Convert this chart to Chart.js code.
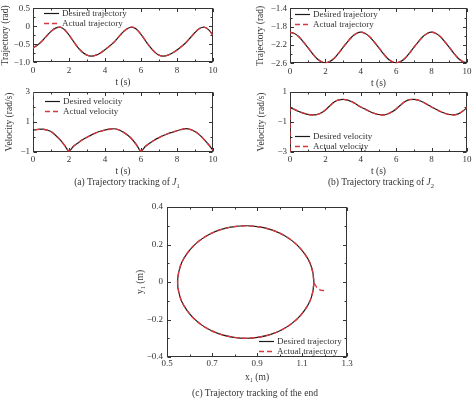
<!DOCTYPE html>
<html>
<head>
<meta charset="utf-8">
<script src="https://cdn.jsdelivr.net/npm/chart.js@4.4.1/dist/chart.umd.min.js"></script>
<style>
  html, body { margin: 0; padding: 0; background: #fff; }
  #wrap { position: relative; width: 474px; height: 399px; overflow: hidden;
          font-family: "Liberation Serif", "Times New Roman", serif; color: #333; }
  #wrap canvas { position: absolute; left: 0; top: 0; }
  .cap { position: absolute; font-size: 9.5px; line-height: 11px; white-space: nowrap; transform: translateX(-50%); }
  .cap sub { font-size: 6.5px; line-height: 0; }
</style>
</head>
<body>
<div id="wrap">
  <canvas id="j1Traj" width="474" height="399"></canvas>
  <canvas id="j2Traj" width="474" height="399"></canvas>
  <canvas id="j1Vel" width="474" height="399"></canvas>
  <canvas id="j2Vel" width="474" height="399"></canvas>
  <canvas id="endTraj" width="474" height="399"></canvas>
  <div class="cap" style="left:127px; top:177px">(a) Trajectory tracking of <i>J</i><sub>1</sub></div>
  <div class="cap" style="left:381px; top:177px">(b) Trajectory tracking of <i>J</i><sub>2</sub></div>
  <div class="cap" style="left:255px; top:388px">(c) Trajectory tracking of the end</div>
</div>
<script>
// time axis (s)
const timeS = [0, 0.25, 0.5, 0.75, 1, 1.25, 1.5, 1.75, 2, 2.25, 2.5, 2.75, 3, 3.25, 3.5, 3.75, 4,
  4.25, 4.5, 4.75, 5, 5.25, 5.5, 5.75, 6, 6.25, 6.5, 6.75, 7, 7.25, 7.5, 7.75, 8,
  8.25, 8.5, 8.75, 9, 9.25, 9.5, 9.75, 10];

// joint 1 trajectory (rad)
const j1Traj = [-0.60, -0.52, -0.41, -0.27, -0.14, -0.05, -0.02, -0.09, -0.24, -0.42, -0.59, -0.72, -0.80, -0.83, -0.80, -0.74, -0.65,
  -0.55, -0.44, -0.30, -0.16, -0.06, -0.02, -0.08, -0.22, -0.40, -0.57, -0.71, -0.80, -0.83, -0.80, -0.74, -0.66,
  -0.56, -0.45, -0.31, -0.17, -0.06, -0.02, -0.09, -0.25];

// joint 2 trajectory (rad)
const j2Traj = [-1.92, -1.95, -2.02, -2.13, -2.25, -2.38, -2.49, -2.56, -2.59, -2.56, -2.49, -2.38, -2.25, -2.13, -2.02, -1.95, -1.92,
  -1.95, -2.02, -2.13, -2.25, -2.38, -2.49, -2.56, -2.59, -2.56, -2.49, -2.38, -2.25, -2.13, -2.02, -1.95, -1.92,
  -1.95, -2.02, -2.13, -2.25, -2.38, -2.49, -2.56, -2.59];

// joint velocities (rad/s)
const j1Vel = [0.47, 0.50, 0.52, 0.47, 0.36, 0.12, -0.18, -0.55, -0.93, -0.62, -0.40, -0.18, -0.02, 0.14, 0.28, 0.38, 0.46,
  0.52, 0.55, 0.48, 0.34, 0.13, -0.15, -0.52, -0.93, -0.62, -0.40, -0.20, -0.04, 0.10, 0.22, 0.32, 0.42,
  0.50, 0.56, 0.50, 0.36, 0.14, -0.16, -0.50, -0.88];
const j2Vel = [-0.04, -0.16, -0.30, -0.41, -0.49, -0.53, -0.51, -0.40, -0.20, 0.08, 0.34, 0.48, 0.51, 0.46, 0.35, 0.18, 0.00,
  -0.14, -0.30, -0.42, -0.50, -0.53, -0.47, -0.33, -0.13, 0.13, 0.36, 0.49, 0.51, 0.46, 0.33, 0.17, 0.00,
  -0.15, -0.30, -0.42, -0.50, -0.53, -0.46, -0.28, -0.04];
// actual velocity starts from this value at t = 0
const j1VelStart = 3.0;
const j2VelStart = -3.0;

// end effector path (m)
const endX = [1.153, 1.148, 1.135, 1.112, 1.082, 1.045, 1.002, 0.954, 0.903, 0.850, 0.797, 0.746, 0.698, 0.655, 0.618, 0.588, 0.565, 0.552, 0.547,
  0.552, 0.565, 0.588, 0.618, 0.655, 0.698, 0.746, 0.797, 0.850, 0.903, 0.954, 1.002, 1.045, 1.082, 1.112, 1.135, 1.148, 1.153];
const endY = [0.000, 0.052, 0.103, 0.150, 0.193, 0.230, 0.260, 0.282, 0.295, 0.300, 0.295, 0.282, 0.260, 0.230, 0.193, 0.150, 0.103, 0.052, 0.000,
  -0.052, -0.103, -0.150, -0.193, -0.230, -0.260, -0.282, -0.295, -0.300, -0.295, -0.282, -0.260, -0.230, -0.193, -0.150, -0.103, -0.052, 0.000];
// actual end path start (before joining the circle)
const endStartX = [1.198, 1.182, 1.167, 1.157];
const endStartY = [-0.046, -0.043, -0.030, -0.012];

// ticks
const tTicks = [0, 2, 4, 6, 8, 10];
const tLabels = ['0', '2', '4', '6', '8', '10'];
const j1TrajTicks = [-1, -0.5, 0, 0.5];
const j1TrajLabels = ['\u22121.0', '\u22120.5', '0', '0.5'];
const j2TrajTicks = [-2.6, -2.2, -1.8, -1.4];
const j2TrajLabels = ['\u22122.6', '\u22122.2', '\u22121.8', '\u22121.4'];
const j1VelTicks = [-1, 1, 3];
const j1VelLabels = ['\u22121', '1', '3'];
const j2VelTicks = [-3, -1, 1];
const j2VelLabels = ['\u22123', '\u22121', '1'];
const endXTicks = [0.5, 0.7, 0.9, 1.1, 1.3];
const endXLabels = ['0.5', '0.7', '0.9', '1.1', '1.3'];
const endYTicks = [-0.4, -0.2, 0, 0.2, 0.4];
const endYLabels = ['\u22120.4', '\u22120.2', '0', '0.2', '0.4'];

const SERIF = '"Liberation Serif", "Times New Roman", serif';
const INK = '#333';
const RED = '#d8383c';

function timePoints(ys) { return timeS.map((t, i) => ({x: t, y: ys[i]})); }
function xyPoints(xs, ys) { return xs.map((x, i) => ({x: x, y: ys[i]})); }

// box and inward ticks under the curves, legend on top
const frameTicks = {
  id: 'frameTicks',
  beforeDatasetsDraw(chart) {
    const ctx = chart.ctx, a = chart.chartArea;
    const L = Math.round(a.left) + 0.5, R = Math.round(a.right) - 0.5;
    const T = Math.round(a.top) + 0.5, B = Math.round(a.bottom) - 0.5;
    ctx.save();
    ctx.strokeStyle = INK;
    ctx.lineWidth = 1;
    ctx.strokeRect(L, T, R - L, B - T);
    const marks = (scale) => {
      const v = scale.ticks.map(t => t.value), out = [];
      v.forEach((val, i) => {
        out.push([val, 3.5]);
        if (i < v.length - 1) out.push([(val + v[i + 1]) / 2, 2]);
      });
      return out;
    };
    ctx.beginPath();
    marks(chart.scales.x).forEach(([v, len]) => {
      const px = Math.round(chart.scales.x.getPixelForValue(v)) + 0.5;
      ctx.moveTo(px, B); ctx.lineTo(px, B - len);
      ctx.moveTo(px, T); ctx.lineTo(px, T + len);
    });
    marks(chart.scales.y).forEach(([v, len]) => {
      const py = Math.round(chart.scales.y.getPixelForValue(v)) + 0.5;
      ctx.moveTo(L, py); ctx.lineTo(L + len, py);
      ctx.moveTo(R, py); ctx.lineTo(R - len, py);
    });
    ctx.stroke();
    ctx.restore();
  },
  afterDatasetsDraw(chart, args, opts) {
    const ctx = chart.ctx, a = chart.chartArea;
    const lg = opts.legend;
    ctx.save();
    ctx.font = '9px ' + SERIF;
    ctx.textBaseline = 'middle';
    ctx.textAlign = 'left';
    [1, 0].forEach((di, row) => {
      const ds = chart.data.datasets[di];
      const x = a.left + lg.x, y = a.top + lg.y + row * 10;
      ctx.beginPath();
      ctx.strokeStyle = ds.borderColor;
      ctx.lineWidth = ds.borderWidth;
      ctx.setLineDash(ds.borderDash || []);
      ctx.moveTo(x, Math.round(y) + 0.5);
      ctx.lineTo(x + 15, Math.round(y) + 0.5);
      ctx.stroke();
      ctx.setLineDash([]);
      ctx.fillStyle = INK;
      ctx.fillText(ds.label, x + 18, y + 0.5);
    });
    ctx.restore();
  }
};

function axis(def, horizontal) {
  return {
    type: 'linear',
    min: def.values[0],
    max: def.values[def.values.length - 1],
    afterBuildTicks: s => { s.ticks = def.values.map(v => ({value: v})); },
    afterFit: s => { if (horizontal) s.height = def.size; else s.width = def.size; },
    grid: {display: false, drawTicks: false},
    border: {display: false},
    ticks: {
      autoSkip: false, maxRotation: 0, padding: def.tickPad, color: INK,
      font: {family: SERIF, size: 9},
      callback: (v, i) => def.labels[i]
    },
    title: {display: true, text: def.title, color: INK, padding: 0,
            font: {family: SERIF, size: 9.5, lineHeight: 1.2}}
  };
}

function makePanel(id, p) {
  return new Chart(document.getElementById(id), {
    type: 'line',
    data: {
      datasets: [
        {label: p.names[1], data: p.actual, borderColor: RED, borderWidth: 1.4, borderDash: [5, 3],
         order: 0, cubicInterpolationMode: p.curve ? 'default' : 'monotone', tension: 0.3},
        {label: p.names[0], data: p.desired, borderColor: '#1a1a1a', borderWidth: 1.2,
         order: 1, cubicInterpolationMode: p.curve ? 'default' : 'monotone', tension: 0.3}
      ]
    },
    options: {
      responsive: false,
      animation: false,
      events: [],
      layout: {autoPadding: false, padding: p.pad},
      elements: {point: {radius: 0}},
      plugins: {legend: {display: false}, tooltip: {enabled: false}, frameTicks: {legend: p.legend}},
      scales: {x: axis(p.x, true), y: axis(p.y, false)}
    },
    plugins: [frameTicks]
  });
}

makePanel('j1Traj', {
  names: ['Desired trajectory', 'Actual trajectory'],
  desired: timePoints(j1Traj),
  actual: timePoints(j1Traj),
  pad: {left: 0, top: 3, right: 261, bottom: 311.3},
  x: {values: tTicks, labels: tLabels, size: 25.4, tickPad: 2.5, title: 't (s)'},
  y: {values: j1TrajTicks, labels: j1TrajLabels, size: 33, tickPad: 3, title: 'Trajectory (rad)'},
  legend: {x: 11, y: 4.3}
});

makePanel('j2Traj', {
  names: ['Desired trajectory', 'Actual trajectory'],
  desired: timePoints(j2Traj),
  actual: timePoints(j2Traj),
  pad: {left: 254.6, top: 3, right: 4, bottom: 310.3},
  x: {values: tTicks, labels: tLabels, size: 25.4, tickPad: 2.5, title: 't (s)'},
  y: {values: j2TrajTicks, labels: j2TrajLabels, size: 35.4, tickPad: 3, title: 'Trajectory (rad)'},
  legend: {x: 5, y: 5.3}
});

makePanel('j1Vel', {
  names: ['Desired velocity', 'Actual velocity'],
  desired: timePoints(j1Vel),
  actual: [{x: 0, y: j1VelStart}].concat(timePoints(j1Vel)),
  pad: {left: 3.6, top: 92, right: 261, bottom: 221.6},
  x: {values: tTicks, labels: tLabels, size: 25.4, tickPad: 2.5, title: 't (s)'},
  y: {values: j1VelTicks, labels: j1VelLabels, size: 29.4, tickPad: 3, title: 'Velocity (rad/s)'},
  legend: {x: 12, y: 8.7}
});

makePanel('j2Vel', {
  names: ['Desired velocity', 'Actual velocity'],
  desired: timePoints(j2Vel),
  actual: [{x: 0, y: j2VelStart}].concat(timePoints(j2Vel)),
  pad: {left: 255.6, top: 92, right: 4, bottom: 221.6},
  x: {values: tTicks, labels: tLabels, size: 25.4, tickPad: 2.5, title: 't (s)'},
  y: {values: j2VelTicks, labels: j2VelLabels, size: 34.4, tickPad: 3, title: 'Velocity (rad/s)'},
  legend: {x: 5, y: 44}
});

makePanel('endTraj', {
  names: ['Desired trajectory', 'Actual trajectory'],
  desired: xyPoints(endX, endY),
  actual: xyPoints(endStartX, endStartY).concat(xyPoints(endX, endY)),
  curve: true,
  pad: {left: 134.6, top: 207, right: 127, bottom: 15.6},
  x: {values: endXTicks, labels: endXLabels, size: 26.4, tickPad: 1.5, title: 'x\u2081 (m)'},
  y: {values: endYTicks, labels: endYLabels, size: 32.4, tickPad: 4, title: 'y\u2081 (m)'},
  legend: {x: 92, y: 134}
});
</script>
</body>
</html>
